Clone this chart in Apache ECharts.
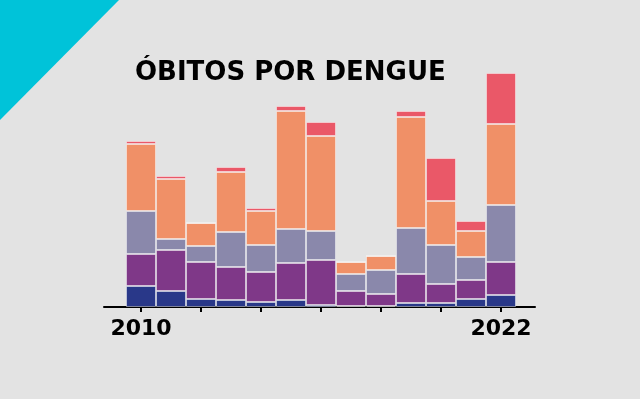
<!DOCTYPE html>
<html>
<head>
<meta charset="utf-8">
<script src="https://cdn.jsdelivr.net/npm/echarts@6/dist/echarts.min.js"></script>
<style>
  html, body { margin: 0; padding: 0; background: #e3e3e3; }
  #chart { width: 640px; height: 399px; }
</style>
</head>
<body>
<div id="chart"></div>
<script>
// anos e camadas (de baixo para cima)
const years = ['2010', '2011', '2012', '2013', '2014', '2015', '2016', '2017', '2018', '2019', '2020', '2021', '2022'];
const layer1 = [21, 16, 8, 7, 5, 7, 2, 1, 1, 4, 4, 8, 12];          // azul
const layer2 = [32, 41, 37, 33, 30, 37, 45, 15, 12, 29, 19, 19, 33]; // roxo
const layer3 = [43, 11, 16, 35, 27, 34, 29, 17, 24, 46, 39, 23, 57]; // cinza
const layer4 = [67, 60, 23, 60, 34, 118, 95, 12, 14, 111, 44, 26, 81]; // laranja
const layer5 = [3, 3, 0, 5, 3, 5, 14, 0, 0, 6, 43, 10, 51];          // vermelho
const tickYears = [2010, 2012, 2014, 2016, 2018, 2020, 2022];
const labelYears = [2010, 2022];

const colors = ['#293889', '#7f3888', '#8a88ab', '#f09067', '#ea5868'];
const layers = [layer1, layer2, layer3, layer4, layer5];

const chart = echarts.init(document.getElementById('chart'));

const series = layers.map((vals, i) => ({
  name: 'faixa ' + (i + 1),
  type: 'bar',
  stack: 'total',
  barCategoryGap: '0%',
  xAxisIndex: 0,
  yAxisIndex: 0,
  data: vals,
  itemStyle: {
    color: colors[i],
    borderColor: 'rgba(255,255,255,0.45)',
    borderWidth: 1
  },
  silent: true
}));

// serie vazia so para o eixo de anos
series.push({
  type: 'line',
  xAxisIndex: 1,
  yAxisIndex: 1,
  data: [],
  silent: true
});

const option = {
  backgroundColor: '#e3e3e3',
  animation: false,
  title: {
    text: 'ÓBITOS POR DENGUE',
    left: 135,
    top: 60,
    padding: 0,
    textStyle: {
      fontFamily: 'DejaVu Sans',
      fontWeight: 'bold',
      fontSize: 26,
      color: '#000'
    }
  },
  graphic: [{
    type: 'polygon',
    shape: { points: [[0, 0], [119, 0], [0, 120]] },
    style: { fill: '#00c3d9' }
  }],
  grid: [
    { left: 126, right: 124, top: 57, bottom: 92 },
    { left: 104, right: 105, top: 57, bottom: 92 }
  ],
  xAxis: [{
    type: 'category',
    gridIndex: 0,
    data: years,
    axisLine: { show: false },
    axisTick: { show: false },
    axisLabel: { show: false }
  }, {
    type: 'value',
    gridIndex: 1,
    min: 2008.767,
    max: 2023.133,
    splitLine: { show: false },
    axisLine: { show: true, lineStyle: { color: '#000', width: 2 } },
    axisTick: {
      show: true,
      customValues: tickYears,
      length: 5,
      lineStyle: { color: '#000', width: 2 }
    },
    axisLabel: {
      customValues: labelYears,
      formatter: v => String(v),
      margin: 11,
      fontFamily: 'DejaVu Sans',
      fontWeight: 'bold',
      fontSize: 22,
      color: '#000'
    }
  }],
  yAxis: [
    { type: 'value', gridIndex: 0, min: 0, max: 250, show: false },
    { type: 'value', gridIndex: 1, min: 0, max: 250, show: false }
  ],
  series: series
};

chart.setOption(option);
</script>
</body>
</html>
